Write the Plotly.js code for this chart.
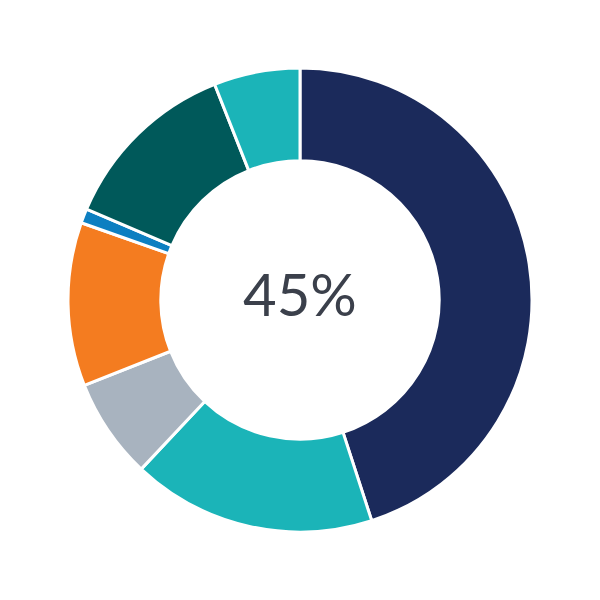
<!DOCTYPE html>
<html>
<head>
<meta charset="utf-8">
<script src="https://cdn.plot.ly/plotly-3.0.1.min.js"></script>
<style>html,body{margin:0;padding:0;background:#fff;}#chart{width:600px;height:600px;}</style>
</head>
<body>
<div id="chart"></div>
<script>
var categories = ["A", "B", "C", "D", "E", "F", "G"];
var values = [45, 17, 7, 11.4, 1, 12.6, 6];
var colors = ["#1b2a5b", "#1bb4b8", "#a8b3bf", "#f47c20", "#0d7fc1", "#00595a", "#1bb4b8"];
var centerLabel = "45%";

Plotly.newPlot("chart", [{
  type: "pie",
  labels: categories,
  values: values,
  hole: 0.6,
  sort: false,
  direction: "clockwise",
  rotation: 0,
  textinfo: "none",
  hoverinfo: "none",
  marker: {colors: colors, line: {color: "#ffffff", width: 3}}
}], {
  width: 600, height: 600,
  margin: {l: 68, r: 68, t: 68, b: 68},
  showlegend: false,
  paper_bgcolor: "#ffffff",
  annotations: [{
    text: centerLabel, showarrow: false, x: 0.5, y: 0.5, xref: "paper", yref: "paper", yshift: 7,
    font: {family: "Lato", size: 58, color: "#3b404b"}
  }]
}, {displayModeBar: false, staticPlot: true});
</script>
</body>
</html>
